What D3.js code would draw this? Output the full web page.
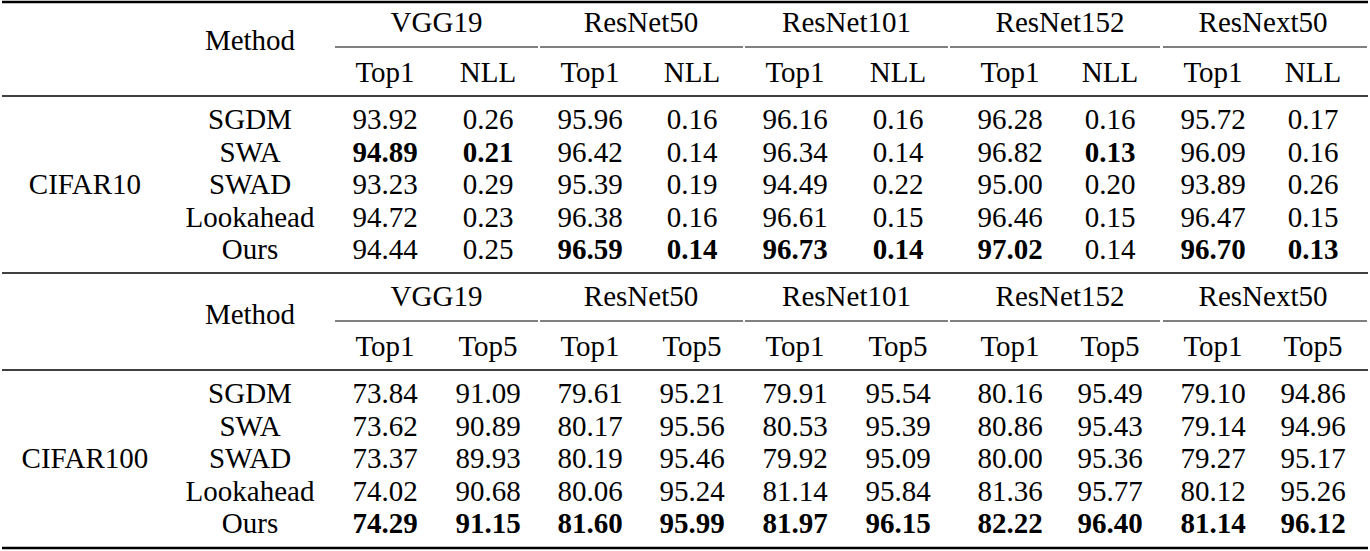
<!DOCTYPE html>
<html><head><meta charset="utf-8">
<script src="https://cdn.jsdelivr.net/npm/d3@7"></script>
<style>body{margin:0;background:#fff}</style>
</head><body>
<svg id="t" width="1370" height="551"></svg>
<script>
const models = ["VGG19", "ResNet50", "ResNet101", "ResNet152", "ResNext50"];
const methods = ["SGDM", "SWA", "SWAD", "Lookahead", "Ours"];
const cifar10 = [
  ["93.92","0.26","95.96","0.16","96.16","0.16","96.28","0.16","95.72","0.17"],
  ["94.89","0.21","96.42","0.14","96.34","0.14","96.82","0.13","96.09","0.16"],
  ["93.23","0.29","95.39","0.19","94.49","0.22","95.00","0.20","93.89","0.26"],
  ["94.72","0.23","96.38","0.16","96.61","0.15","96.46","0.15","96.47","0.15"],
  ["94.44","0.25","96.59","0.14","96.73","0.14","97.02","0.14","96.70","0.13"]
];
const cifar10Bold = [[], [0,1,7], [], [], [2,3,4,5,6,8,9]];
const cifar100 = [
  ["73.84","91.09","79.61","95.21","79.91","95.54","80.16","95.49","79.10","94.86"],
  ["73.62","90.89","80.17","95.56","80.53","95.39","80.86","95.43","79.14","94.96"],
  ["73.37","89.93","80.19","95.46","79.92","95.09","80.00","95.36","79.27","95.17"],
  ["74.02","90.68","80.06","95.24","81.14","95.84","81.36","95.77","80.12","95.26"],
  ["74.29","91.15","81.60","95.99","81.97","96.15","82.22","96.40","81.14","96.12"]
];
const cifar100Bold = [[], [], [], [], [0,1,2,3,4,5,6,7,8,9]];

const svg = d3.select("#t");
const font = "Liberation Serif, Times New Roman, serif";
const colX = [385,488,590,692,795,898,1010,1110,1213,1313];
const groupX = d => (colX[d*2] + colX[d*2+1]) / 2;
const groupL = [335,540,745,950,1163];
const groupR = [538,743,948,1160,1367];

function text(x, y, s, bold) {
  svg.append("text").attr("x", x).attr("y", y).attr("text-anchor", "middle")
    .attr("dominant-baseline", "central").attr("font-family", font)
    .attr("font-size", 29).attr("font-weight", bold ? "bold" : "normal")
    .attr("fill", "#000").text(s);
}
function rule(x1, x2, y, w) {
  svg.append("line").attr("x1", x1).attr("x2", x2).attr("y1", y).attr("y2", y)
    .attr("stroke", "#000").attr("stroke-width", w);
}

function block(top, name, sub, data, bold) {
  text(250, top + 38, "Method");
  models.forEach((m, i) => text(groupX(i), top + 20, m));
  models.forEach((m, i) => rule(groupL[i], groupR[i], top + 45, 1));
  colX.forEach((x, i) => text(x, top + 70, sub[i % 2]));
  rule(2, 1368, top + 94, 1.3);
  const y = d3.scalePoint().domain(methods).range([top + 117, top + 247]);
  methods.forEach((m, r) => {
    text(250, y(m), m);
    data[r].forEach((v, c) => text(colX[c], y(m), v, bold[r].includes(c)));
  });
  text(85, y("SWAD"), name);
}

rule(2, 1368, 2, 2.5);
block(2, "CIFAR10", ["Top1", "NLL"], cifar10, cifar10Bold);
rule(2, 1368, 273, 1.3);
block(276, "CIFAR100", ["Top1", "Top5"], cifar100, cifar100Bold);
rule(2, 1368, 548, 2.5);
</script>
</body></html>
